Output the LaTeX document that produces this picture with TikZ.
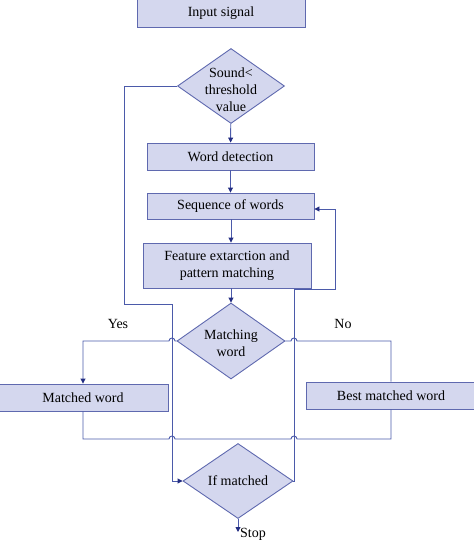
\documentclass[tikz,border=0pt]{standalone}
\usepackage{fontspec}
\setmainfont{Liberation Serif}
\usepackage{tikz}
\usetikzlibrary{shapes.geometric,arrows.meta,positioning}
\definecolor{boxfill}{RGB}{212,215,238}
\definecolor{boxline}{RGB}{95,105,175}
\definecolor{flowcol}{RGB}{75,90,170}
\definecolor{tipcol}{RGB}{35,45,130}
\tikzset{
  procbox/.style = {rectangle, draw=boxline, fill=boxfill, line width=0.9pt, inner sep=0pt, align=center},
  decision/.style = {diamond, draw=boxline, fill=boxfill, line width=0.9pt, inner sep=0pt},
  flowline/.style = {draw=flowcol, line width=0.9pt},
  flowarrow/.style = {flowline, -{Triangle[width=5pt,length=5pt,color=tipcol]}},
}
\begin{document}
\begin{tikzpicture}[x=1pt, y=-1pt, font=\fontsize{14}{17}\selectfont]
\useasboundingbox (0,0) rectangle (474,542);
\clip (0,0) rectangle (474,542);

% Main column
\node[procbox, minimum width=168pt, minimum height=28pt] (input) at (221,13) {Input signal};
\node[decision, minimum width=107pt, minimum height=75pt,
  label={[align=center, yshift=-4pt]center:Sound<\\threshold\\value}] (sound) at (231,86) {};
\node[procbox, minimum width=167pt, minimum height=27pt] (detect) at (230.5,156.5) {Word detection};
\node[procbox, minimum width=167pt, minimum height=26pt] (seq) at (230.5,206) {Sequence of words};
\node[procbox, minimum width=168pt, minimum height=45pt] (feat) at (227,265.5) {Feature extarction and\\pattern matching};
\node[decision, minimum width=108pt, minimum height=76pt,
  label={[align=center, yshift=-2pt]center:Matching\\word}] (match) at (231,341) {};

% Branches
\node[procbox, minimum width=170pt, minimum height=27pt] (matched) at (83,397.5) {Matched word};
\node[procbox, minimum width=170pt, minimum height=27pt] (best) at (391,395.5) {Best matched word};
\node[decision, minimum width=110pt, minimum height=75pt,
  label={center:If matched}] (ifm) at (238,481) {};
\coordinate (stop) at (238,532);

\node (yes) at (118,324) {Yes};
\node (no) at (343,324) {No};
\node[anchor=west, inner sep=1pt] (stoplbl) at (239,534) {Stop};

% Straight flow
\draw[flowarrow] (sound) -- (detect);
\draw[flowarrow] (detect) -- (seq);
\draw[flowarrow] (seq.south -| match.north) -- (feat.north -| match.north);
\draw[flowarrow] (feat.south -| match.north) -- (match.north);
\draw[flowarrow] (ifm) -- (stop);

% Loops
\draw[flowarrow] (sound.west) -| (124,304) -| (172,481) -- (ifm.west);
\draw[flowarrow] (ifm.east) -| (294,289) -| (335,209) -- ([yshift=-3pt]seq.east);

% Yes / No with jumps
\draw[flowarrow] (match.west) -- (175,341) arc[start angle=0, end angle=-180, radius=3] -| (matched.north);
\draw[flowline] (match.east) -- (291,341) arc[start angle=180, end angle=360, radius=3] -| (best.north);
\draw[flowline] (matched.south) |- (169,439) arc[start angle=180, end angle=360, radius=3]
  -- (291,439) arc[start angle=180, end angle=360, radius=3] -| (best.south);

\end{tikzpicture}
\end{document}
